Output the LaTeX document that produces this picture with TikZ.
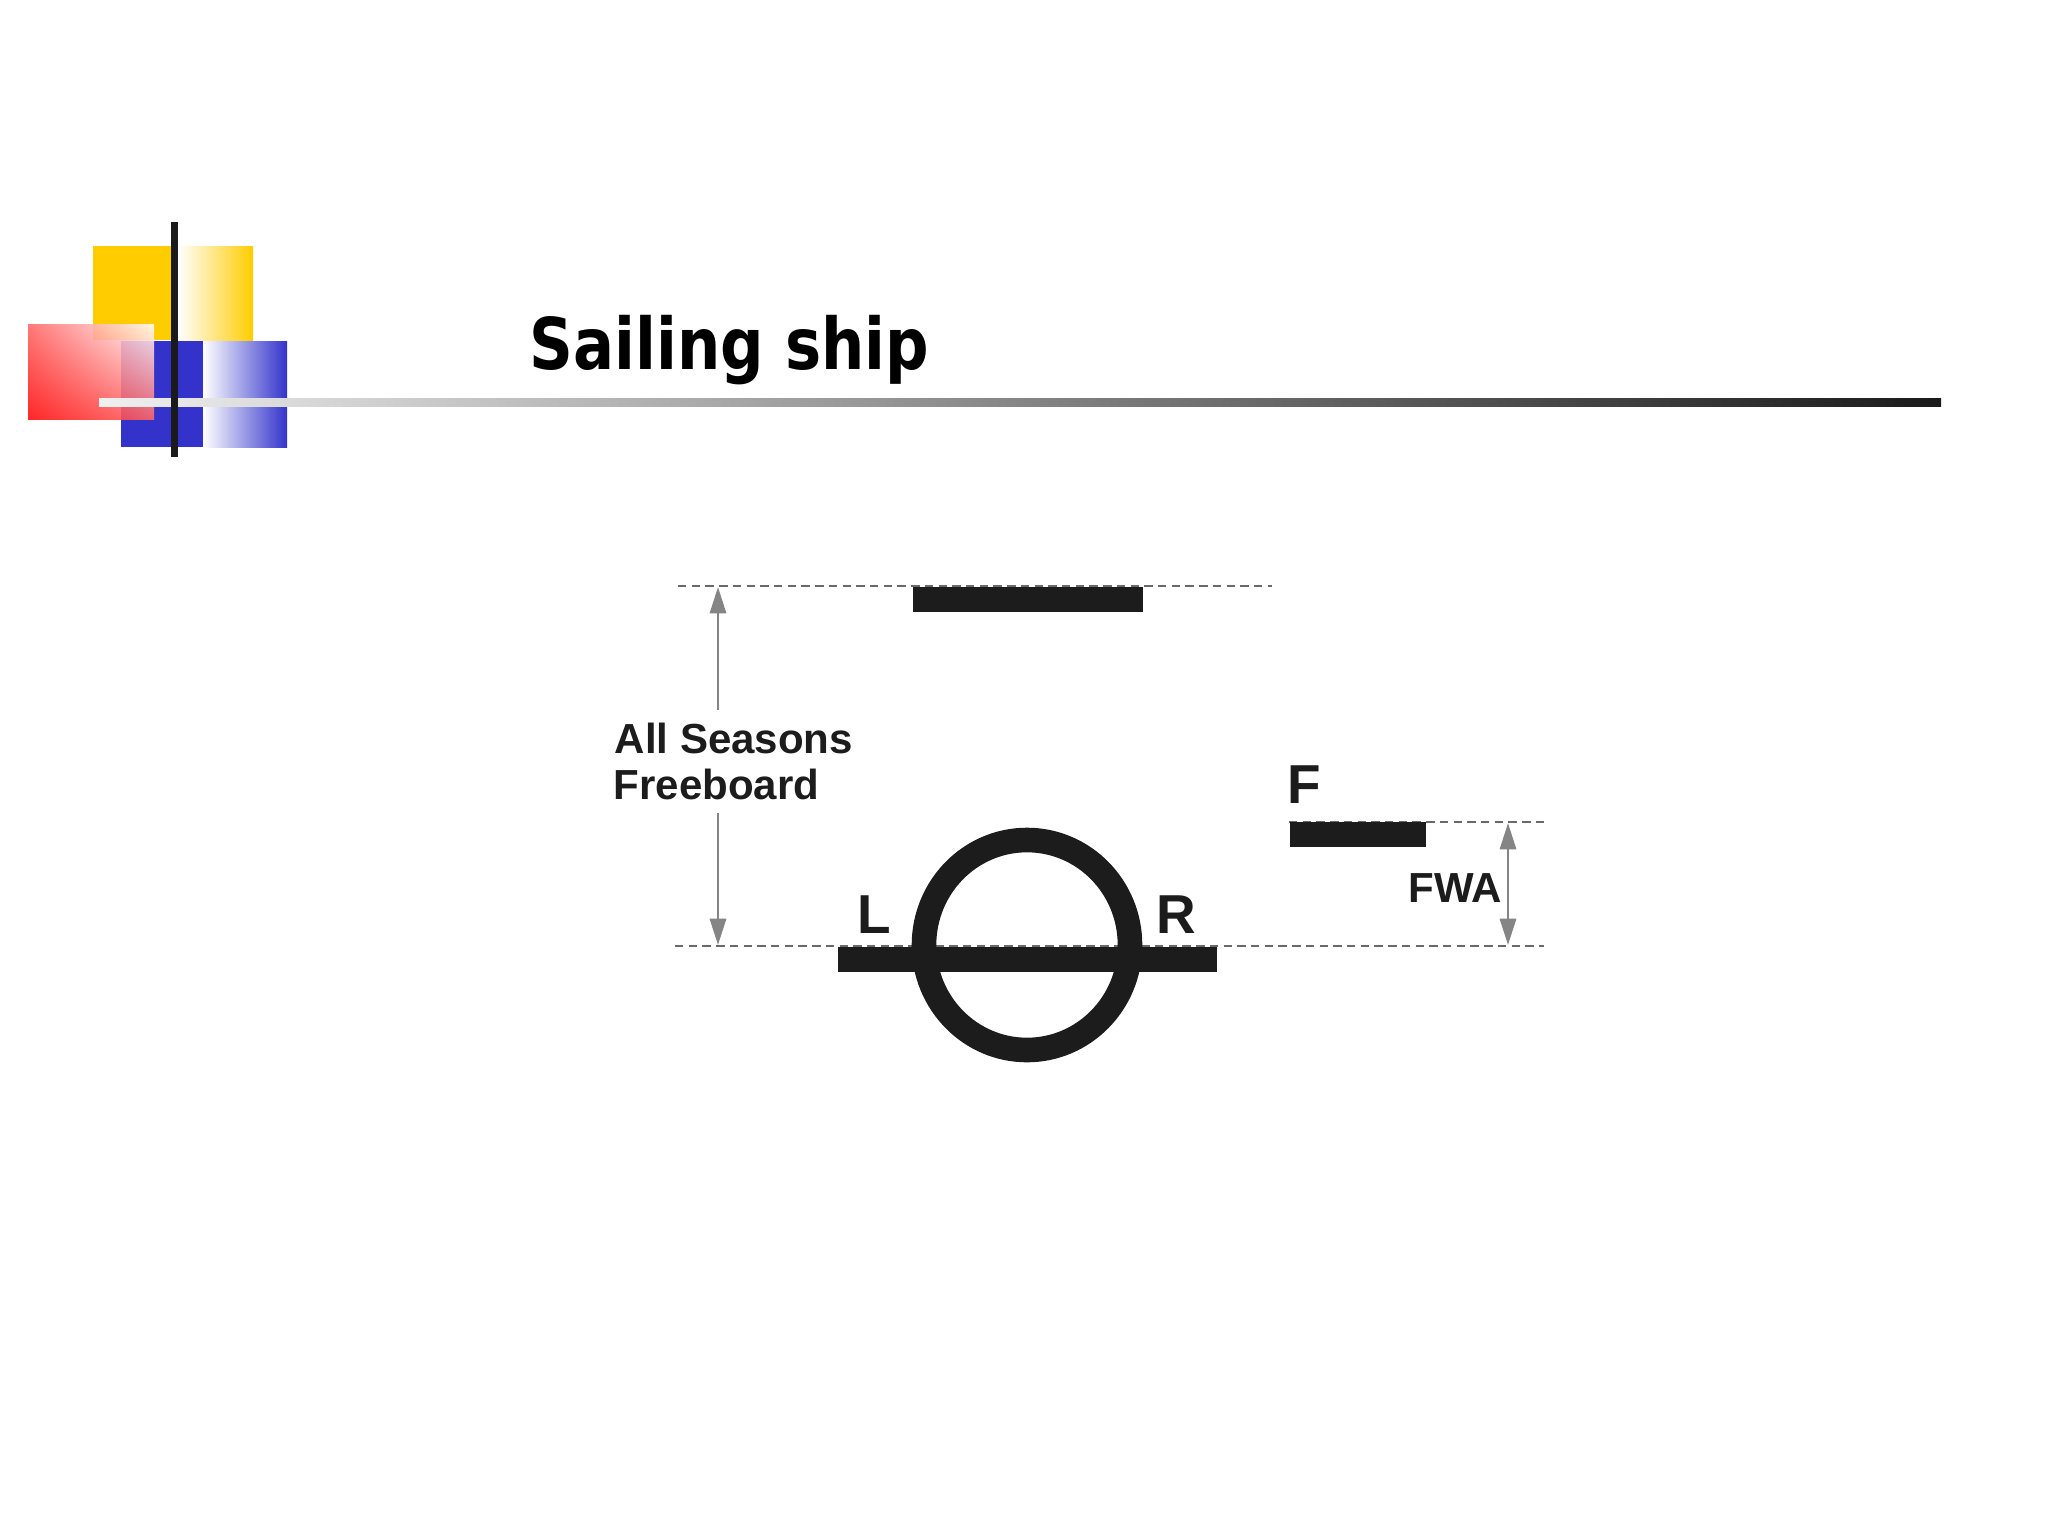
\documentclass[tikz,border=0pt]{standalone}
\usepackage{fontspec}
\setmainfont{Liberation Sans}
\newfontfamily\titlefont{DejaVu Sans}
\usetikzlibrary{arrows.meta,shadings}
\definecolor{ink}{HTML}{1C1C1C}
\definecolor{dimgray}{HTML}{858585}
\definecolor{dashgray}{HTML}{6A6A6A}
\definecolor{logoyellow}{HTML}{FFCC00}
\definecolor{logoblue}{HTML}{3333CC}
\definecolor{logored}{HTML}{FF0A0A}
\definecolor{barblack}{HTML}{1A1A1A}
\tikzset{
  waterline/.style={draw=dashgray, line width=0.65pt, dash pattern=on 2.4pt off 1.5pt},
  dimline/.style={draw=dimgray, line width=0.75pt, -{Triangle[length=7.5pt,width=4.6pt]}},
  dimboth/.style={draw=dimgray, line width=0.75pt, {Triangle[length=7.5pt,width=4.6pt]}-{Triangle[length=7.5pt,width=4.6pt]}},
  markbar/.style={fill=ink},
  lbl/.style={inner sep=0pt, anchor=base west, text=ink},
  bigletter/.style={lbl, font=\fontsize{15.6}{19}\selectfont\bfseries},
  smalllbl/.style={lbl, font=\fontsize{11.95}{14}\selectfont\bfseries},
}
\begin{document}
\begin{tikzpicture}[x=0.01cm, y=-0.01cm]
\useasboundingbox (0,0) rectangle (2048,1536);
\fill[white] (0,0) rectangle (2048,1536);

% ---- logo ----
\fill[logoyellow] (93,246) rectangle (178,340);
\shade[left color=white, right color=logoyellow] (178,246) rectangle (253,340);
\fill[logoblue] (121,341) rectangle (203,447);
\shade[left color=white, right color=logoblue] (203,341) rectangle (287,447);
\shade[lower left=logored, upper right=white, upper left=logored!62!white, lower right=logored!62!white, opacity=0.88] (28,324) rectangle (154,419);
% title rule
\shade[left color=white!94!black, right color=barblack] (99,398) rectangle (1941,406);
\fill[barblack] (171,222) rectangle (178,457);

% ---- title ----
\node[lbl, text=black, font=\titlefont\bfseries\fontsize{20.3}{24}\selectfont] (title) at (529,369) {\scalebox{0.852}[1]{Sailing ship}};

% ---- water lines ----
\draw[waterline] (678,586) -- (1272,586);
\draw[waterline] (675,946) -- (1544,946);
\draw[waterline] (1289,822) -- (1544,822);

% ---- load line marks ----
\fill[markbar] (913,587) rectangle (1143,612);
\fill[markbar] (838,947) rectangle (1217,972);
\fill[markbar] (1290,822) rectangle (1426,847);
\draw[ink, line width=7pt] (1027,945) ellipse [x radius=103, y radius=105];

% ---- labels ----
\node[smalllbl] (asf1) at (614,753) {All Seasons};
\node[smalllbl] (asf2) at (613,799) {Freeboard};
\node[bigletter] (L) at (857,933) {L};
\node[bigletter] (R) at (1156,933) {R};
\node[bigletter] (F) at (1287,803) {F};
\node[smalllbl] (fwa) at (1408,902) {FWA};

% ---- dimension arrows ----
\coordinate (asfTop) at (718,587);
\coordinate (asfBot) at (718,945);
\coordinate (gapT) at (718,710);
\coordinate (gapB) at (718,813);
\draw[dimline] (gapT) -- (asfTop);
\draw[dimline] (gapB) -- (asfBot);
\coordinate (fwaTop) at (1508,823);
\coordinate (fwaBot) at (1508,945);
\draw[dimboth] (fwaTop) -- (fwaBot);
\end{tikzpicture}
\end{document}
